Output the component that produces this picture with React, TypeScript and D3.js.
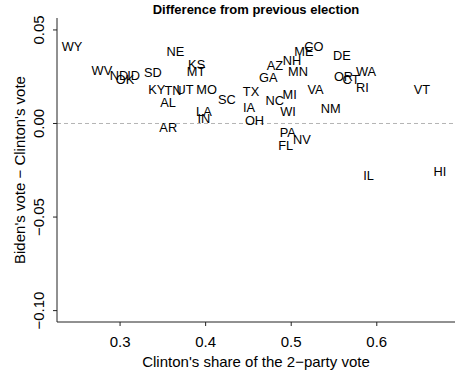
import React from "react";
import * as d3 from "d3";

const states = ["WY","NE","WV","ND","ID","OK","SD","KS","MT","KY","TN","UT","MO","AL","SC","LA","IN","AR","TX","IA","OH","CO","ME","NH","AZ","DE","MN","GA","OR","CT","WA","RI","VT","VA","NC","MI","WI","NM","PA","FL","NV","IL","HI"];
const clintonShare = [0.2438,0.3647,0.2788,0.2987,0.3158,0.3057,0.3384,0.3895,0.3887,0.3428,0.3618,0.3758,0.4012,0.356,0.4249,0.398,0.398,0.3563,0.453,0.4506,0.4571,0.5266,0.5149,0.5009,0.481,0.5593,0.5079,0.4732,0.5611,0.5698,0.5874,0.5833,0.6528,0.5284,0.4807,0.4982,0.4962,0.5461,0.4959,0.4935,0.5126,0.5905,0.6738];
const voteDiff = [0.0414,0.0387,0.0286,0.0259,0.0259,0.0235,0.0275,0.0318,0.0281,0.0182,0.0176,0.0182,0.0182,0.0115,0.0127,0.0067,0.0026,-0.0022,0.0174,0.0084,0.0019,0.041,0.0387,0.0339,0.031,0.0363,0.0277,0.0248,0.025,0.0235,0.0278,0.0195,0.0182,0.0182,0.0126,0.0154,0.0067,0.008,-0.0048,-0.0115,-0.0083,-0.0279,-0.0254];
const xTicks = [0.3, 0.4, 0.5, 0.6];
const yTicks = [0.05, 0, -0.05, -0.1];
const yTickLabels = ["0.05", "0.00", "\u22120.05", "\u22120.10"];

const W = 474, H = 379;
const left = 57, right = 455, top = 18, bottom = 322;
const font = "'Liberation Sans', Arial, Helvetica, sans-serif";

export default function App() {
  const x = d3.scaleLinear().domain([0.2263, 0.6914]).range([left, right]);
  const y = d3.scaleLinear().domain([-0.10608, 0.05638]).range([bottom, top]);
  return (
    <svg width={W} height={H} style={{ position: "absolute", left: 0, top: 0, background: "#fff" }} fontFamily={font}>
      <rect width={W} height={H} fill="#fff" />
      <text x={256} y={14} textAnchor="middle" fontWeight="bold" fontSize={13}>Difference from previous election</text>
      <line x1={left} x2={right} y1={y(0)} y2={y(0)} stroke="#b5b5b5" strokeDasharray="4,3" />
      <line x1={left} x2={left} y1={top} y2={bottom} stroke="#222" />
      <line x1={left} x2={right} y1={bottom} y2={bottom} stroke="#222" />
      {xTicks.map((t) => (
        <g key={"x" + t}>
          <line x1={x(t)} x2={x(t)} y1={bottom} y2={bottom + 4} stroke="#222" />
          <text x={x(t)} y={347} textAnchor="middle" fontSize={15}>{t.toFixed(1)}</text>
        </g>
      ))}
      {yTicks.map((t, i) => (
        <g key={"y" + i}>
          <line x1={left - 4} x2={left} y1={y(t)} y2={y(t)} stroke="#222" />
          <text transform={`translate(44,${y(t)}) rotate(-90)`} textAnchor="middle" fontSize={15}>{yTickLabels[i]}</text>
        </g>
      ))}
      <text x={(left + right) / 2} y={367} textAnchor="middle" fontSize={15}>Clinton's share of the 2{"\u2212"}party vote</text>
      <text transform={`translate(25,${(top + bottom) / 2}) rotate(-90)`} textAnchor="middle" fontSize={15}>Biden's vote {"\u2212"} Clinton's vote</text>
      {states.map((s, i) => (
        <text key={s} x={x(clintonShare[i])} y={y(voteDiff[i])} dy="0.36em" textAnchor="middle" fontSize={12.8}>{s}</text>
      ))}
    </svg>
  );
}
